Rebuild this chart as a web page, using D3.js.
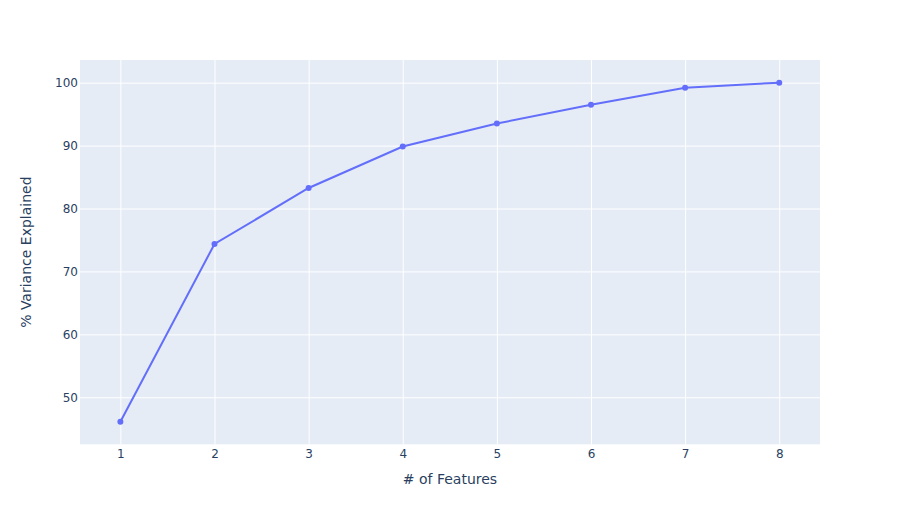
<!DOCTYPE html>
<html><head><meta charset="utf-8">
<script src="https://cdn.jsdelivr.net/npm/d3@7"></script>
<style>body{margin:0;background:#fff}svg{font-family:"DejaVu Sans",sans-serif}</style>
</head><body><svg id="c" width="900" height="525"></svg>
<script>
const features = [1, 2, 3, 4, 5, 6, 7, 8];
const variance = [46.12, 74.36, 83.26, 89.86, 93.5, 96.5, 99.2, 100];
const xTicks = [1, 2, 3, 4, 5, 6, 7, 8];
const yTicks = [50, 60, 70, 80, 90, 100];

const svg = d3.select("#c");
const L = 80, R = 820, T = 60, B = 444.3;
const x = d3.scaleLinear().domain([0.571, 8.433]).range([L, R]);
const y = d3.scaleLinear().domain([42.53, 103.6]).range([B, T]);

svg.append("rect").attr("x", L).attr("y", T).attr("width", R - L).attr("height", B - T).attr("fill", "#e5ecf6");

const gx = svg.append("g").attr("transform", `translate(0,${B})`)
  .call(d3.axisBottom(x).tickValues(xTicks).tickFormat(d3.format("d")).tickSize(-(B - T)).tickPadding(5));
const gy = svg.append("g").attr("transform", `translate(${L},0)`)
  .call(d3.axisLeft(y).tickValues(yTicks).tickFormat(d3.format("d")).tickSize(-(R - L)).tickPadding(2));
[gx, gy].forEach(g => {
  g.select(".domain").remove();
  g.selectAll(".tick line").attr("stroke", "#fff").attr("stroke-width", 1);
  g.selectAll(".tick text").attr("fill", "#2a3f5f").style("font-size", "12px").style("font-family", "'DejaVu Sans', sans-serif");
});

const line = d3.line().x((d, i) => x(features[i])).y(d => y(d));
svg.append("path").datum(variance).attr("d", line).attr("fill", "none").attr("stroke", "#636efa").attr("stroke-width", 2);
svg.selectAll("circle.pt").data(variance).enter().append("circle").attr("class", "pt")
  .attr("cx", (d, i) => x(features[i])).attr("cy", d => y(d)).attr("r", 3).attr("fill", "#636efa");

svg.append("text").attr("x", (L + R) / 2).attr("y", 484).attr("text-anchor", "middle")
  .attr("fill", "#2a3f5f").style("font-size", "14px").text("# of Features");
svg.append("text").attr("transform", `translate(31,${(T + B) / 2}) rotate(-90)`).attr("text-anchor", "middle")
  .attr("fill", "#2a3f5f").style("font-size", "14px").text("% Variance Explained");
</script></body></html>
